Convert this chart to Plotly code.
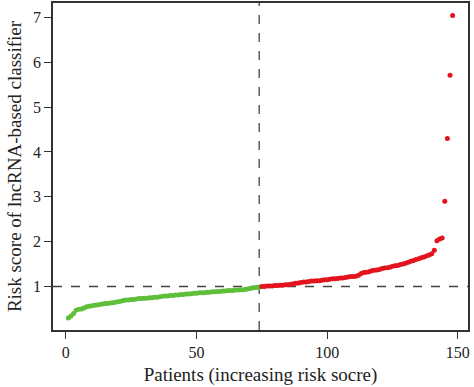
import plotly.graph_objects as go

low_scores = [0.30, 0.34, 0.40, 0.47, 0.49, 0.50, 0.52, 0.55, 0.56, 0.57,
              0.58, 0.59, 0.60, 0.61, 0.62, 0.62, 0.63, 0.64, 0.65, 0.66,
              0.67, 0.69, 0.70, 0.70, 0.71, 0.71, 0.72, 0.73, 0.73, 0.74,
              0.74, 0.75, 0.75, 0.76, 0.76, 0.77, 0.78, 0.79, 0.79, 0.80,
              0.80, 0.81, 0.81, 0.82, 0.82, 0.83, 0.83, 0.84, 0.85, 0.85,
              0.86, 0.86, 0.86, 0.87, 0.87, 0.88, 0.88, 0.89, 0.89, 0.90,
              0.90, 0.91, 0.91, 0.91, 0.92, 0.92, 0.93, 0.93, 0.94, 0.95,
              0.96, 0.97, 0.98, 0.99]
high_scores = [1.00, 1.00, 1.01, 1.01, 1.01, 1.02, 1.02, 1.03, 1.03, 1.04,
               1.04, 1.05, 1.06, 1.07, 1.08, 1.09, 1.10, 1.10, 1.11, 1.12,
               1.12, 1.13, 1.13, 1.14, 1.15, 1.15, 1.16, 1.17, 1.17, 1.18,
               1.19, 1.19, 1.20, 1.21, 1.22, 1.22, 1.23, 1.25, 1.29, 1.31,
               1.32, 1.33, 1.35, 1.36, 1.37, 1.38, 1.40, 1.41, 1.42, 1.43,
               1.45, 1.46, 1.47, 1.49, 1.50, 1.52, 1.54, 1.56, 1.58, 1.60,
               1.62, 1.64, 1.66, 1.68, 1.70, 1.73, 1.81, 2.02, 2.06, 2.08,
               2.90, 4.30, 5.71, 7.04]
cutoff_index = 74
cutoff_score = 1
x_ticks = [0, 50, 100, 150]
y_ticks = [1, 2, 3, 4, 5, 6, 7]

low_x = list(range(1, len(low_scores) + 1))
high_x = list(range(len(low_scores) + 1, len(low_scores) + len(high_scores) + 1))

font = "Liberation Serif"
fig = go.Figure()
fig.add_trace(go.Scatter(x=low_x, y=low_scores, mode="markers",
                         marker=dict(color="#5fbf3a", size=5), showlegend=False))
fig.add_trace(go.Scatter(x=high_x, y=high_scores, mode="markers",
                         marker=dict(color="#e3141e", size=5), showlegend=False))
fig.add_vline(x=cutoff_index, line=dict(color="#444444", width=1.3, dash="dash"), layer="below")
fig.add_hline(y=cutoff_score, line=dict(color="#444444", width=1.3, dash="dash"), layer="below")

fig.update_layout(
    width=474, height=387,
    margin=dict(l=53, r=6, t=1, b=57),
    plot_bgcolor="white", paper_bgcolor="white",
    font=dict(family=font, size=16, color="#222222"),
)
fig.update_xaxes(range=[-4.88, 153.88], tickvals=x_ticks, ticks="outside", ticklen=7,
                 tickcolor="#333333", showline=True, linecolor="#333333", linewidth=1.5,
                 mirror=True, showgrid=False, zeroline=False,
                 title=dict(text="Patients (increasing risk socre)", standoff=8))
fig.update_yaxes(range=[0.03, 7.32], tickvals=y_ticks, ticks="outside", ticklen=7,
                 tickcolor="#333333", showline=True, linecolor="#333333", linewidth=1.5,
                 mirror=True, showgrid=False, zeroline=False,
                 title=dict(text="Risk score of lncRNA-based classifier", standoff=6))
fig.write_html("out.html", config={"displayModeBar": False},
               post_script="document.body.style.margin='0';document.body.style.overflow='hidden';")
